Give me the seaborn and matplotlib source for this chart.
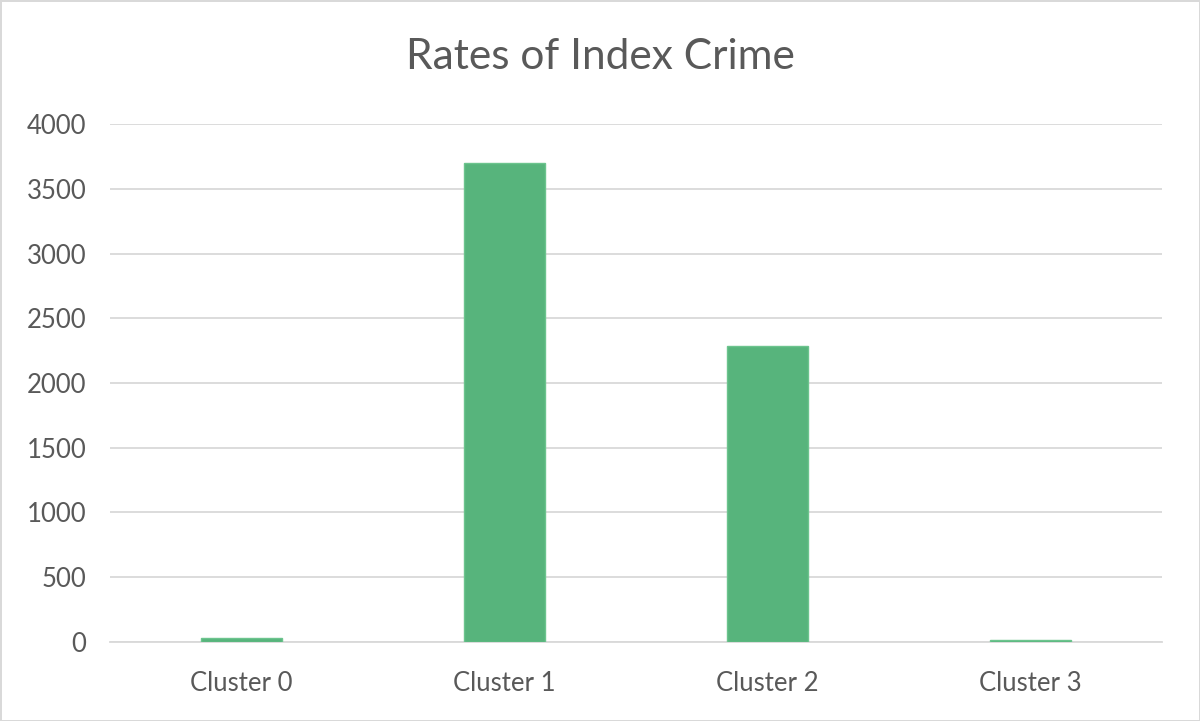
import matplotlib
matplotlib.use('Agg')
import matplotlib.pyplot as plt
import seaborn as sns
import pandas as pd

clusters = ['Cluster 0', 'Cluster 1', 'Cluster 2', 'Cluster 3']
rates = [29, 3700, 2285, 18]
yticks = [0, 500, 1000, 1500, 2000, 2500, 3000, 3500, 4000]

sns.set_theme(style='white')
plt.rcParams['font.family'] = ['Lato', 'DejaVu Sans']

df = pd.DataFrame({'cluster': clusters, 'rate': rates})

fig = plt.figure(figsize=(12, 7.21), dpi=100)
fig.patch.set_facecolor('white')
fig.patch.set_edgecolor('#d9d9d9')
fig.patch.set_linewidth(2)
ax = fig.add_axes([0.0917, 0.1096, 0.8766, 0.7184])

sns.barplot(data=df, x='cluster', y='rate', color='#57b47c', width=0.31,
            edgecolor='#6cc48e', linewidth=1, saturation=1, ax=ax, zorder=3)

ax.set_ylim(0, 4000)
ax.set_xlim(-0.5, 3.5)
ax.set_yticks(yticks)
ax.yaxis.grid(True, color='#d9d9d9', linewidth=1.3, zorder=0)
ax.set_axisbelow(True)
for s in ['top', 'right', 'left']:
    ax.spines[s].set_visible(False)
ax.spines['bottom'].set_color('#d9d9d9')
ax.spines['bottom'].set_linewidth(1.3)
ax.tick_params(axis='both', length=0, labelsize=18.5, labelcolor='#595959')
ax.tick_params(axis='y', pad=17)
ax.tick_params(axis='x', pad=21)
ax.set_xlabel('')
ax.set_ylabel('')

fig.text(0.5, 0.921, 'Rates of Index Crime', ha='center', va='center',
         fontsize=30.5, color='#595959')

fig.savefig('out.png', dpi=100, facecolor=fig.get_facecolor(),
            edgecolor=fig.get_edgecolor())
